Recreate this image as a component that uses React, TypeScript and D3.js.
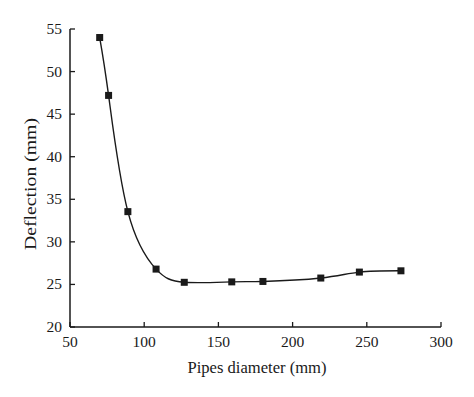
import React from "react";
import * as d3 from "d3";

const diameters = [70, 76, 89, 108, 127, 159, 180, 219, 245, 273];
const deflections = [54.0, 47.2, 33.55, 26.8, 25.25, 25.3, 25.35, 25.75, 26.45, 26.6];
const xTicks = [50, 100, 150, 200, 250, 300];
const yTicks = [20, 25, 30, 35, 40, 45, 50, 55];
const xLabel = "Pipes diameter (mm)";
const yLabel = "Deflection (mm)";

const W = 474;
const H = 397;
const m = { left: 70, right: 33, top: 29, bottom: 70 };
const font = "'Liberation Serif', 'Times New Roman', serif";
const ink = "#1a1a1a";

export default function App() {
  const x = d3.scaleLinear().domain([50, 300]).range([m.left, W - m.right]);
  const y = d3.scaleLinear().domain([20, 55]).range([H - m.bottom, m.top]);
  const pts: [number, number][] = diameters.map((d, i) => [d, deflections[i]]);
  const line = d3
    .line<[number, number]>()
    .x((d) => x(d[0]))
    .y((d) => y(d[1]))
    .curve(d3.curveNatural);
  const x0 = x(50);
  const y0 = y(20);
  const tick = 5;
  const ms = 7;
  return (
    <svg
      width={W}
      height={H}
      style={{ position: "absolute", left: 0, top: 0, background: "#fff" }}
      fontFamily={font}
    >
      <rect width={W} height={H} fill="#fff" />
      <line x1={x0} y1={y(55)} x2={x0} y2={y0} stroke={ink} strokeWidth={1.5} />
      <line x1={x0} y1={y0} x2={x(300)} y2={y0} stroke={ink} strokeWidth={1.5} />
      {xTicks.map((t) => (
        <g key={"x" + t}>
          <line x1={x(t)} x2={x(t)} y1={y0} y2={y0 - tick} stroke={ink} strokeWidth={1.3} />
          <text x={x(t)} y={y0 + 20} textAnchor="middle" fontSize={15.5} fill={ink}>
            {t}
          </text>
        </g>
      ))}
      {yTicks.map((t) => (
        <g key={"y" + t}>
          <line x1={x0} x2={x0 + tick} y1={y(t)} y2={y(t)} stroke={ink} strokeWidth={1.3} />
          <text x={x0 - 8} y={y(t) + 5} textAnchor="end" fontSize={15.5} fill={ink}>
            {t}
          </text>
        </g>
      ))}
      <text
        x={257}
        y={373}
        textAnchor="middle"
        fontSize={16.5}
        fill={ink}
        textLength={139}
        lengthAdjust="spacingAndGlyphs"
      >
        {xLabel}
      </text>
      <text
        transform={`translate(36, 184) rotate(-90)`}
        textAnchor="middle"
        fontSize={16.5}
        fill={ink}
        textLength={132}
        lengthAdjust="spacingAndGlyphs"
      >
        {yLabel}
      </text>
      <path d={line(pts) || ""} fill="none" stroke={ink} strokeWidth={1.4} />
      {pts.map((p, i) => (
        <rect
          key={i}
          x={x(p[0]) - ms / 2}
          y={y(p[1]) - ms / 2}
          width={ms}
          height={ms}
          fill={ink}
        />
      ))}
    </svg>
  );
}
